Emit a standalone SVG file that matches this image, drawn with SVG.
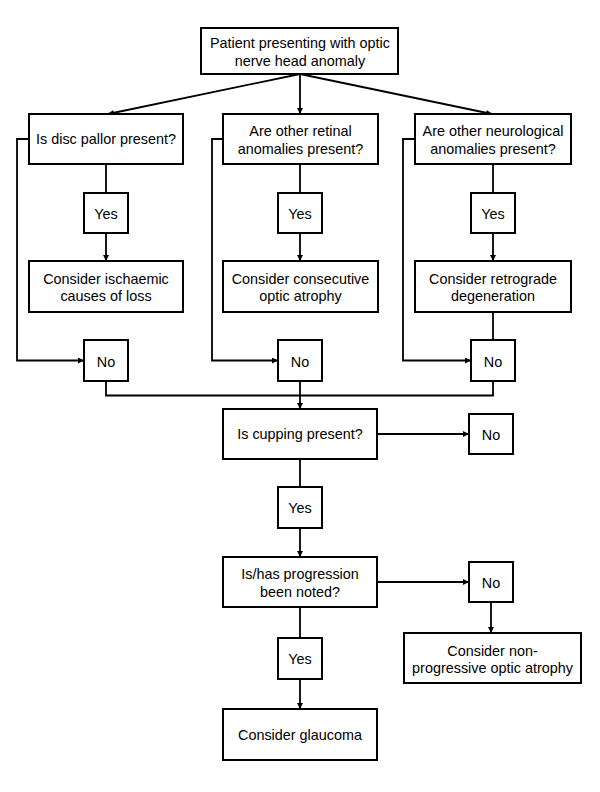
<svg xmlns="http://www.w3.org/2000/svg" width="600" height="792" viewBox="0 0 600 792">
<style>
.box{fill:#fff;stroke:#000;stroke-width:2}
.t{font-family:"Liberation Sans",Arial,sans-serif;font-size:14.4px;fill:#000;text-anchor:middle}
.c{fill:none;stroke:#000;stroke-width:1.8}
</style>
<defs>
<marker id="ah" markerUnits="userSpaceOnUse" markerWidth="7" markerHeight="6" refX="6" refY="3" orient="auto">
<path d="M0,0 L6,3 L0,6 z" fill="#000"/>
</marker>
</defs>
<rect width="600" height="792" fill="#fff"/>
<g id="connectors">
<line class="c" x1="300" y1="74" x2="108" y2="114" marker-end="url(#ah)"/>
<line class="c" x1="300" y1="74" x2="300" y2="114" marker-end="url(#ah)"/>
<line class="c" x1="300" y1="74" x2="492" y2="114" marker-end="url(#ah)"/>
<line class="c" x1="106" y1="164" x2="106" y2="193"/>
<line class="c" x1="300" y1="164" x2="300" y2="193"/>
<line class="c" x1="493" y1="164" x2="493" y2="193"/>
<line class="c" x1="106" y1="233" x2="106" y2="261" marker-end="url(#ah)"/>
<line class="c" x1="300" y1="233" x2="300" y2="261" marker-end="url(#ah)"/>
<line class="c" x1="493" y1="233" x2="493" y2="261" marker-end="url(#ah)"/>
<polyline class="c" points="29,139 17,139 17,360.5 84,360.5" marker-end="url(#ah)"/>
<polyline class="c" points="223,139 212,139 212,360.5 278,360.5" marker-end="url(#ah)"/>
<polyline class="c" points="415,139 403,139 403,360.5 471,360.5" marker-end="url(#ah)"/>
<line class="c" x1="493" y1="312" x2="493" y2="340"/>
<polyline class="c" points="106,381 106,395.5 493,395.5 493,381"/>
<line class="c" x1="300" y1="381" x2="300" y2="409" marker-end="url(#ah)"/>
<line class="c" x1="377" y1="434" x2="469" y2="434" marker-end="url(#ah)"/>
<line class="c" x1="300" y1="459" x2="300" y2="487"/>
<line class="c" x1="300" y1="528" x2="300" y2="557" marker-end="url(#ah)"/>
<line class="c" x1="377" y1="582" x2="469" y2="582" marker-end="url(#ah)"/>
<line class="c" x1="491" y1="602" x2="491" y2="633" marker-end="url(#ah)"/>
<line class="c" x1="300" y1="607" x2="300" y2="638"/>
<line class="c" x1="300" y1="679" x2="300" y2="709" marker-end="url(#ah)"/>
</g>
<g id="start"><rect class="box" x="201" y="28" width="197" height="46"/><text class="t" x="300" y="48">Patient presenting with optic</text><text class="t" x="300" y="65.7">nerve head anomaly</text></g>
<g id="q-pallor"><rect class="box" x="29" y="114" width="154" height="50"/><text class="t" x="106" y="144.3">Is disc pallor present?</text></g>
<g id="q-retinal"><rect class="box" x="223" y="114" width="155" height="50"/><text class="t" x="300.5" y="136">Are other retinal</text><text class="t" x="300.5" y="153.6">anomalies present?</text></g>
<g id="q-neuro"><rect class="box" x="415" y="114" width="156" height="50"/><text class="t" x="493" y="136">Are other neurological</text><text class="t" x="493" y="153.6">anomalies present?</text></g>
<g id="yes-1"><rect class="box" x="84" y="193" width="44" height="40"/><text class="t" x="106" y="218.8">Yes</text></g>
<g id="yes-2"><rect class="box" x="278" y="193" width="44" height="40"/><text class="t" x="300" y="218.8">Yes</text></g>
<g id="yes-3"><rect class="box" x="471" y="193" width="44" height="40"/><text class="t" x="493" y="218.8">Yes</text></g>
<g id="c-ischaemic"><rect class="box" x="29" y="261" width="154" height="51"/><text class="t" x="106" y="283.5">Consider ischaemic</text><text class="t" x="106" y="301.1">causes of loss</text></g>
<g id="c-consecutive"><rect class="box" x="223" y="261" width="155" height="51"/><text class="t" x="300.5" y="283.5">Consider consecutive</text><text class="t" x="300.5" y="301.1">optic atrophy</text></g>
<g id="c-retrograde"><rect class="box" x="415" y="261" width="156" height="51"/><text class="t" x="493" y="283.5">Consider retrograde</text><text class="t" x="493" y="301.1">degeneration</text></g>
<g id="no-1"><rect class="box" x="84" y="340" width="44" height="41"/><text class="t" x="106" y="366.5">No</text></g>
<g id="no-2"><rect class="box" x="278" y="340" width="44" height="41"/><text class="t" x="300" y="366.5">No</text></g>
<g id="no-3"><rect class="box" x="471" y="340" width="44" height="41"/><text class="t" x="493" y="366.5">No</text></g>
<g id="q-cupping"><rect class="box" x="223" y="409" width="154" height="50"/><text class="t" x="300" y="439.3">Is cupping present?</text></g>
<g id="cup-no"><rect class="box" x="469" y="414" width="44" height="40"/><text class="t" x="491" y="440">No</text></g>
<g id="cup-yes"><rect class="box" x="278" y="487" width="44" height="41"/><text class="t" x="300" y="513.3">Yes</text></g>
<g id="q-progression"><rect class="box" x="223" y="557" width="154" height="50"/><text class="t" x="300" y="579">Is/has progression</text><text class="t" x="300" y="596.6">been noted?</text></g>
<g id="prog-no"><rect class="box" x="469" y="562" width="44" height="40"/><text class="t" x="491" y="588">No</text></g>
<g id="c-nonprog"><rect class="box" x="404" y="633" width="177" height="50"/><text class="t" x="492.5" y="655.5">Consider non-</text><text class="t" x="492.5" y="673.1">progressive optic atrophy</text></g>
<g id="prog-yes"><rect class="box" x="278" y="638" width="44" height="41"/><text class="t" x="300" y="664.3">Yes</text></g>
<g id="c-glaucoma"><rect class="box" x="223" y="709" width="154" height="51"/><text class="t" x="300" y="739.8">Consider glaucoma</text></g>
</svg>
